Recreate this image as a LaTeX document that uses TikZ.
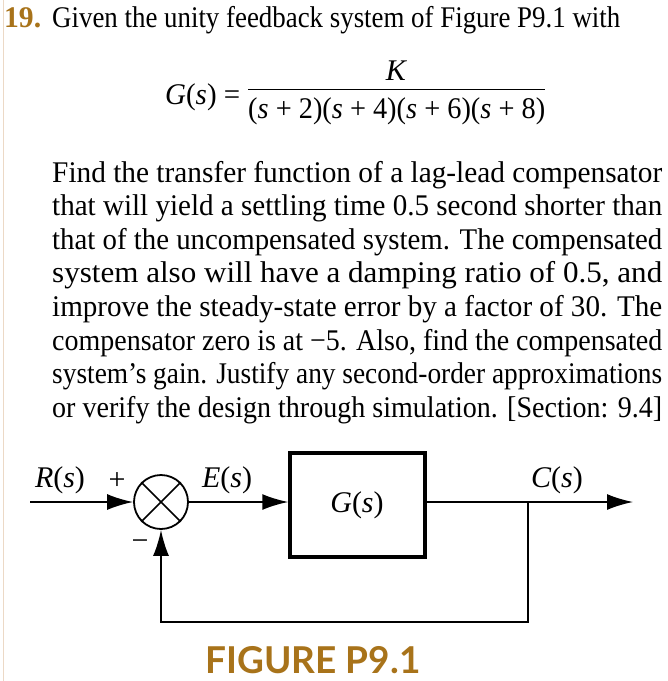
\documentclass[tikz,border=0pt]{standalone}
\usepackage{fontspec}
\setmainfont{Liberation Serif}
\newfontfamily\capfont{Lato}
\usetikzlibrary{arrows.meta}
\definecolor{brn}{HTML}{A8731A}
\newcommand{\jl}[2]{\resizebox{#1pt}{\height}{#2}}
\begin{document}
\begin{tikzpicture}[x=1pt,y=-1pt,
  txt/.style={inner sep=0pt,anchor=base west,font=\fontsize{30}{32}\selectfont},
  lbl/.style={inner sep=0pt,font=\fontsize{30}{32}\selectfont},
  sig/.style={line width=1.8pt},
  arr/.style={sig,-{Latex[length=26pt,width=16pt]}}]
\useasboundingbox[fill=white] (0,0) rectangle (668,681);
\draw[brown!30,line width=0.8pt] (3,0) -- (3,681);
% header
\node[txt,text=brn,font=\bfseries\fontsize{30}{32}\selectfont] (num) at (4,27) {\jl{37}{19.}};
\node[txt] (h1) at (52,27) {\jl{568}{Given the unity feedback system of Figure P9.1 with}};
% equation
\node[txt] (gs) at (165,104) {\jl{75}{\itshape G\upshape(\itshape s\upshape) =}};
\coordinate (fb1) at (248,89);
\coordinate (fb2) at (545,89);
\draw[line width=1pt] (fb1) -- (fb2);
\node[txt,anchor=base] (kk) at (396,80) {\itshape K};
\node[txt] (den) at (248,118) {\jl{297}{(\textit{s} + 2)(\textit{s} + 4)(\textit{s} + 6)(\textit{s} + 8)}};
% paragraph
\node[txt] (l1) at (52,182) {\jl{610}{Find the transfer function of a lag-lead compensator}};
\node[txt] (l2) at (52,215.6) {\jl{610}{that will yield a settling time 0.5 second shorter than}};
\node[txt] (l3) at (52,249.2) {\jl{610}{that of the uncompensated system. The compensated}};
\node[txt] (l4) at (52,282.8) {\jl{610}{system also will have a damping ratio of 0.5, and}};
\node[txt] (l5) at (52,316.4) {\jl{610}{improve the steady-state error by a factor of 30. The}};
\node[txt] (l6) at (52,350) {\jl{610}{compensator zero is at \textminus5. Also, find the compensated}};
\node[txt] (l7) at (52,383.6) {\jl{610}{system’s gain. Justify any second-order approximations}};
\node[txt] (l8) at (52,417.2) {\jl{610}{or verify the design through simulation. [Section: 9.4]}};
% block diagram
\coordinate (in) at (30,502);
\node[circle,draw,line width=1.8pt,minimum size=54pt,inner sep=0pt] (sum) at (161,502) {};
\draw[line width=1.5pt] (sum.north west) -- (sum.south east) (sum.north east) -- (sum.south west);
\node[draw,line width=3.5pt,minimum width=135pt,minimum height=104pt,inner sep=0pt] (g) at (357.5,505) {};
\node[lbl] (gl) at (357,505) {\itshape G\upshape(\itshape s\upshape)};
\coordinate (tk) at (528,502);
\coordinate (out) at (633,502);
\coordinate (bl) at (161,622);
\coordinate (br) at (528,622);
\draw[arr] (in) -- (sum.west);
\draw[arr] (sum.east) -- (g.west |- sum.east);
\draw[arr] (g.east |- tk) -- (out);
\draw[arr] (tk) -- (br) -- (bl) -- (sum.south);
\node[lbl] (rl) at (60,480) {\itshape R\upshape(\itshape s\upshape)};
\node[lbl] (pl) at (117,481) {+};
\node[lbl] (el) at (227,480) {\itshape E\upshape(\itshape s\upshape)};
\node[lbl] (ml) at (140,545) {\textminus};
\node[lbl] (cl) at (557,480) {\itshape C\upshape(\itshape s\upshape)};
\node[inner sep=0pt,text=brn,font=\capfont\bfseries\fontsize{37}{39}\selectfont] (cap) at (313,660) {FIGURE P9.1};
\end{tikzpicture}
\end{document}
